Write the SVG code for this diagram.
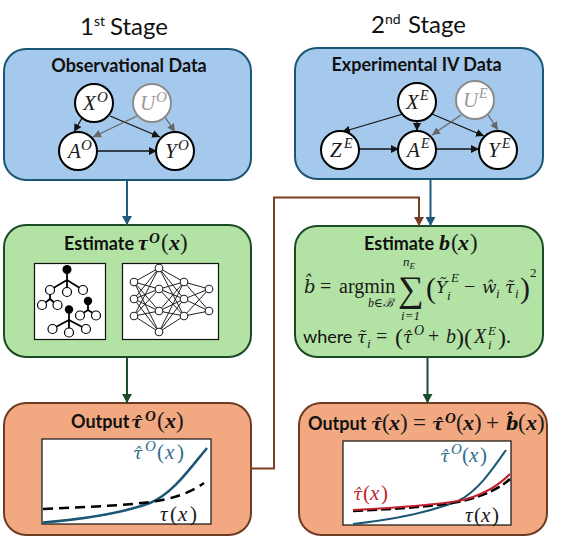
<svg xmlns="http://www.w3.org/2000/svg" width="585" height="541" viewBox="0 0 585 541">
<defs>
<style>
.blue{fill:#a5c9ec;stroke:#1b5674;stroke-width:2}
.green{fill:#b3e3a4;stroke:#1a4a26;stroke-width:2}
.orange{fill:#f2a982;stroke:#6e3c22;stroke-width:2}
.t{font-family:"Lato","Open Sans",sans-serif;fill:#111}
.h{font-family:"Lato","Open Sans",sans-serif;font-weight:700;font-size:18px;fill:#111}
.m{font-family:"Liberation Serif","DejaVu Serif",serif;font-style:italic;fill:#1a1a1a}
.mb{font-family:"Liberation Serif","DejaVu Serif",serif;font-style:italic;font-weight:700;fill:#111}
.hm{font-family:"DejaVu Serif",serif;font-style:italic;fill:#1a1a1a}
.hb{font-family:"DejaVu Serif",serif;font-style:italic;font-weight:700;fill:#111}
.r{font-family:"Liberation Serif","DejaVu Serif",serif;fill:#1a1a1a}
.n{fill:#fff;stroke:#000;stroke-width:2}
.ng{fill:#fff;stroke:#8c8c8c;stroke-width:2}
.e{fill:none;stroke:#111;stroke-width:1.3;marker-end:url(#ak)}
.eg{fill:none;stroke:#666;stroke-width:1.3;marker-end:url(#ag)}
.plot{fill:#fff;stroke:#111;stroke-width:1.2}
.tl{fill:none;stroke:#000;stroke-width:1.8}
.to{fill:#fff;stroke:#000;stroke-width:1.2}
.nl{stroke:#222;stroke-width:1;fill:none}
.no{fill:#fff;stroke:#222;stroke-width:1.1}
</style>
<marker id="ak" markerUnits="userSpaceOnUse" markerWidth="9" markerHeight="8" refX="8" refY="4" orient="auto"><path d="M0 0L8 4L0 8z" fill="#111"/></marker>
<marker id="ag" markerUnits="userSpaceOnUse" markerWidth="9" markerHeight="8" refX="8" refY="4" orient="auto"><path d="M0 0L8 4L0 8z" fill="#666"/></marker>
<marker id="ab" markerUnits="userSpaceOnUse" markerWidth="10" markerHeight="10" refX="9" refY="5" orient="auto"><path d="M0 0L9 5L0 10z" fill="#1f5a7e"/></marker>
<marker id="ad" markerUnits="userSpaceOnUse" markerWidth="10" markerHeight="10" refX="9" refY="5" orient="auto"><path d="M0 0L9 5L0 10z" fill="#1b4d2a"/></marker>
<marker id="ar" markerUnits="userSpaceOnUse" markerWidth="10" markerHeight="10" refX="9" refY="5" orient="auto"><path d="M0 0L9 5L0 10z" fill="#7a3d20"/></marker>
</defs>
<rect width="585" height="541" fill="#fff"/>

<text class="t" x="80" y="35" font-size="24">1<tspan font-size="14" dy="-9">st</tspan><tspan dy="9" x="110">Stage</tspan></text>
<text class="t" x="371" y="33" font-size="24">2<tspan font-size="14" dy="-9">nd</tspan><tspan dy="9" x="408">Stage</tspan></text>

<g id="box-observational">
<rect class="blue" x="4" y="49" width="247" height="131" rx="22"/>
<text class="h" x="129" y="72" text-anchor="middle">Observational Data</text>
</g>
<g id="box-experimental">
<rect class="blue" x="295" y="48" width="248" height="131" rx="22"/>
<text class="h" x="416.500" y="71" text-anchor="middle">Experimental IV Data</text>
</g>
<g id="box-estimate-tau">
<rect class="green" x="4" y="225" width="247" height="132" rx="22"/>
<text x="64" y="250"><tspan class="h" font-size="19.500">Estimate</tspan><tspan class="mb" font-size="22" x="138">τ</tspan><tspan class="mb" font-size="15" x="149" y="243">O</tspan><tspan class="r" font-size="23" x="161" y="250">(</tspan><tspan class="mb" font-size="22" x="169">x</tspan><tspan class="r" font-size="23" x="180">)</tspan></text>
</g>
<g id="box-estimate-b">
<rect class="green" x="295" y="226" width="248" height="131" rx="22"/>
<text x="364" y="250"><tspan class="h" font-size="19.500">Estimate</tspan><tspan class="mb" font-size="22" x="439">b</tspan><tspan class="r" font-size="23" x="451">(</tspan><tspan class="mb" font-size="22" x="458">x</tspan><tspan class="r" font-size="23" x="470">)</tspan></text>
</g>
<g id="box-output-tau">
<rect class="orange" x="4" y="403" width="247" height="132" rx="22"/>
<text x="71" y="428"><tspan class="h" font-size="19.500">Output</tspan><tspan class="hb" font-size="17" x="131">τ̂</tspan><tspan class="mb" font-size="15" x="145" y="421">O</tspan><tspan class="r" font-size="23" x="157" y="428">(</tspan><tspan class="mb" font-size="22" x="165">x</tspan><tspan class="r" font-size="23" x="176">)</tspan></text>
</g>
<g id="box-output-final">
<rect class="orange" x="299" y="403" width="248" height="132" rx="22"/>
<text x="308" y="430"><tspan class="h" font-size="19.500">Output</tspan><tspan class="hb" font-size="17" x="371">τ̂</tspan><tspan class="r" font-size="23" x="382">(</tspan><tspan class="mb" font-size="22" x="389">x</tspan><tspan class="r" font-size="23" x="400">)</tspan><tspan class="r" font-size="23" x="413">=</tspan><tspan class="hb" font-size="17" x="432">τ̂</tspan><tspan class="mb" font-size="15" x="445" y="423">O</tspan><tspan class="r" font-size="23" x="456" y="430">(</tspan><tspan class="mb" font-size="22" x="463">x</tspan><tspan class="r" font-size="23" x="474">)</tspan><tspan class="r" font-size="23" x="486">+</tspan><tspan class="hb" font-size="18" x="506">b̂</tspan><tspan class="r" font-size="23" x="518">(</tspan><tspan class="mb" font-size="22" x="526">x</tspan><tspan class="r" font-size="23" x="537">)</tspan></text>
</g>

<g id="connectors" fill="none">
<path d="M127 180V225" stroke="#1f5a7e" stroke-width="2" marker-end="url(#ab)"/>
<path d="M430.500 179V226" stroke="#1f5a7e" stroke-width="2" marker-end="url(#ab)"/>
<path d="M251 468.500H274V197.500H419V226" stroke="#7a3d20" stroke-width="2" marker-end="url(#ar)"/>
<path d="M127 357V403" stroke="#1b4d2a" stroke-width="2" marker-end="url(#ad)"/>
<path d="M427.500 357V403" stroke="#1b4d2a" stroke-width="2" marker-end="url(#ad)"/>
<path class="e" d="M82 118L74 132"/>
<path class="e" d="M110 116L160 137"/>
<path class="eg" d="M137 116L93 137"/>
<path class="eg" d="M165 117L175 132"/>
<path class="e" d="M97 151H157"/>
<path class="e" d="M403 114L342 132"/>
<path class="e" d="M417 120V131"/>
<path class="e" d="M432 114L484 136"/>
<path class="eg" d="M461 115L432 135"/>
<path class="eg" d="M488 115L498 130"/>
<path class="e" d="M359 149H399"/>
<path class="e" d="M436 149H479"/>
</g>

<g id="node-XO"><circle class="n" cx="94" cy="103" r="19"/><text class="m" x="83" y="110" font-size="21">X</text><text class="m" x="97" y="102" font-size="15">O</text></g>
<g id="node-UO"><circle class="ng" cx="152" cy="103" r="19"/><text class="m" x="140" y="110" font-size="21" style="fill:#9a9a9a">U</text><text class="m" x="156" y="102" font-size="15" style="fill:#9a9a9a">O</text></g>
<g id="node-AO"><circle class="n" cx="78" cy="151" r="19"/><text class="m" x="68" y="158" font-size="21">A</text><text class="m" x="81" y="150" font-size="15">O</text></g>
<g id="node-YO"><circle class="n" cx="175" cy="151" r="19"/><text class="m" x="165" y="158" font-size="21">Y</text><text class="m" x="178" y="150" font-size="15">O</text></g>

<g id="node-XE"><circle class="n" cx="417" cy="102" r="19"/><text class="m" x="406" y="109" font-size="21">X</text><text class="m" x="420" y="100" font-size="14">E</text></g>
<g id="node-UE"><circle class="ng" cx="475" cy="100" r="19"/><text class="m" x="463" y="107" font-size="21" style="fill:#9a9a9a">U</text><text class="m" x="479" y="98" font-size="14" style="fill:#9a9a9a">E</text></g>
<g id="node-ZE"><circle class="n" cx="340" cy="150" r="19"/><text class="m" x="330" y="157" font-size="21">Z</text><text class="m" x="344" y="148" font-size="14">E</text></g>
<g id="node-AE"><circle class="n" cx="417" cy="150" r="19"/><text class="m" x="407" y="157" font-size="21">A</text><text class="m" x="421" y="148" font-size="14">E</text></g>
<g id="node-YE"><circle class="n" cx="498" cy="150" r="19"/><text class="m" x="488" y="157" font-size="21">Y</text><text class="m" x="502" y="148" font-size="14">E</text></g>

<g id="trees">
<rect class="plot" x="34.500" y="263.500" width="71" height="76"/>
<path class="tl" d="M67 270V280M50 290L67 280L83 290M67 280V292M50 290V299M42 305L50 299L57 305M88 301V310M80 315L88 310L96 315M69 309V320M52 329L69 320L86 329M69 320V332" stroke-width="2"/>
<circle cx="67" cy="269.500" r="4.500"/>
<circle class="to" cx="50" cy="290" r="4.500"/><circle class="to" cx="67" cy="292" r="4.500"/><circle class="to" cx="83" cy="290" r="4.500"/>
<circle class="to" cx="42" cy="305" r="4.500"/><circle class="to" cx="57.500" cy="305" r="4.500"/>
<circle cx="88" cy="301" r="4.200"/><circle class="to" cx="80" cy="315.500" r="4.500"/><circle class="to" cx="96" cy="315.500" r="4.500"/>
<circle cx="69" cy="309.500" r="4.200"/><circle class="to" cx="52.500" cy="329" r="4.500"/><circle class="to" cx="69" cy="332.500" r="4.500"/><circle class="to" cx="86" cy="329" r="4.500"/>
</g>

<g id="network">
<rect class="plot" x="122.500" y="263.500" width="96" height="76"/>
<path class="nl" d="M134 282L159 268M134 282L159 289M134 282L159 311M134 282L159 332M134 299L159 268M134 299L159 289M134 299L159 311M134 299L159 332M134 316L159 268M134 316L159 289M134 316L159 311M134 316L159 332M159 268L184 282M159 268L184 299M159 268L184 316M159 289L184 282M159 289L184 299M159 289L184 316M159 311L184 282M159 311L184 299M159 311L184 316M159 332L184 282M159 332L184 299M159 332L184 316M184 282L209 289M184 282L209 311M184 299L209 289M184 299L209 311M184 316L209 289M184 316L209 311"/>
<g class="no">
<circle cx="134" cy="282" r="3.800"/><circle cx="134" cy="299" r="3.800"/><circle cx="134" cy="316" r="3.800"/>
<circle cx="159" cy="268" r="3.800"/><circle cx="159" cy="289" r="3.800"/><circle cx="159" cy="311" r="3.800"/><circle cx="159" cy="332" r="3.800"/>
<circle cx="184" cy="282" r="3.800"/><circle cx="184" cy="299" r="3.800"/><circle cx="184" cy="316" r="3.800"/>
<circle cx="209" cy="289" r="3.800"/><circle cx="209" cy="311" r="3.800"/>
</g>
</g>

<g id="formula">
<text class="hm" x="304" y="293" font-size="18">b̂</text>
<text class="r" x="320" y="293" font-size="20">=</text>
<text class="r" x="339" y="293" font-size="20">argmin</text>
<text class="m" x="368" y="307" font-size="12">b∈ℬ</text>
<text class="m" x="403" y="266" font-size="13">n<tspan font-size="9" dy="3">E</tspan></text>
<text class="r" x="398" y="301" font-size="36">∑</text>
<text class="m" x="401" y="320" font-size="13">i<tspan class="r">=1</tspan></text>
<text class="r" x="426" y="298" font-size="30">(</text>
<text class="hm" x="436" y="293" font-size="17">Ỹ</text>
<text class="m" x="451" y="282" font-size="13">E</text>
<text class="m" x="447" y="300" font-size="13">i</text>
<text class="r" x="464" y="293" font-size="20">−</text>
<text class="hm" x="482" y="293" font-size="17">ŵ</text>
<text class="m" x="496" y="298" font-size="13">i</text>
<text class="hm" x="505" y="293" font-size="17">τ̃</text>
<text class="m" x="515" y="298" font-size="13">i</text>
<text class="r" x="520" y="298" font-size="30">)</text>
<text class="r" x="530" y="277" font-size="13">2</text>
<text class="t" x="303" y="343" font-size="18">where</text>
<text class="hm" x="357" y="343" font-size="17">τ̃</text>
<text class="m" x="367" y="348" font-size="13">i</text>
<text class="r" x="376" y="343" font-size="20">=</text>
<text class="r" x="395" y="345" font-size="24">(</text>
<text class="hm" x="403" y="343" font-size="17">τ̂</text>
<text class="m" x="414" y="335" font-size="14">O</text>
<text class="r" x="428" y="343" font-size="20">+</text>
<text class="m" x="446" y="343" font-size="20">b</text>
<text class="r" x="456" y="345" font-size="24">)(</text>
<text class="m" x="474" y="343" font-size="20">X</text>
<text class="m" x="488" y="335" font-size="13">E</text>
<text class="m" x="488" y="349" font-size="13">i</text>
<text class="r" x="498" y="345" font-size="24">)</text>
<text class="r" x="506" y="343" font-size="20">.</text>
</g>

<g id="plot-first">
<rect class="plot" x="42" y="439" width="169" height="85"/>
<path d="M43 522.500C85 519 120 514 150 503C172 494 188 471 207 448" fill="none" stroke="#1b5674" stroke-width="2.500"/>
<path d="M43 509C90 507 130 505 150 502C172 499 188 494 204 483" fill="none" stroke="#000" stroke-width="2.500" stroke-dasharray="10 6"/>
<text y="459"><tspan class="hm" font-size="17" x="133" style="fill:#2e6d8c">τ̂</tspan><tspan class="m" font-size="15" x="145" y="451" style="fill:#2e6d8c">O</tspan><tspan class="r" font-size="21" x="157" y="459" style="fill:#2e6d8c">(</tspan><tspan class="m" font-size="21" x="165" style="fill:#2e6d8c">x</tspan><tspan class="r" font-size="21" x="177" style="fill:#2e6d8c">)</tspan></text>
<text y="521"><tspan class="m" font-size="21" x="160">τ</tspan><tspan class="r" font-size="21" x="170">(</tspan><tspan class="m" font-size="21" x="178">x</tspan><tspan class="r" font-size="21" x="190">)</tspan></text>
</g>

<g id="plot-second">
<rect class="plot" x="343" y="441" width="168" height="84"/>
<path d="M353 524C390 520 430 512 458 501C478 491 492 470 506 450" fill="none" stroke="#1b5674" stroke-width="2"/>
<path d="M353 511C400 509 435 506 458 502C478 498 498 490 510 479" fill="none" stroke="#000" stroke-width="2.500" stroke-dasharray="10 4"/>
<path d="M353 510C400 507.500 435 505 458 501C478 497 496 488 510 474" fill="none" stroke="#c01f2e" stroke-width="2.200"/>
<text y="462"><tspan class="hm" font-size="17" x="440" style="fill:#2e6d8c">τ̂</tspan><tspan class="m" font-size="15" x="451" y="454" style="fill:#2e6d8c">O</tspan><tspan class="r" font-size="21" x="462" y="462" style="fill:#2e6d8c">(</tspan><tspan class="m" font-size="21" x="469" style="fill:#2e6d8c">x</tspan><tspan class="r" font-size="21" x="480" style="fill:#2e6d8c">)</tspan></text>
<text y="500"><tspan class="hm" font-size="17" x="353" style="fill:#c01f2e">τ̂</tspan><tspan class="r" font-size="21" x="363" style="fill:#c01f2e">(</tspan><tspan class="m" font-size="21" x="370" style="fill:#c01f2e">x</tspan><tspan class="r" font-size="21" x="381" style="fill:#c01f2e">)</tspan></text>
<text y="522"><tspan class="m" font-size="21" x="465">τ</tspan><tspan class="r" font-size="21" x="474">(</tspan><tspan class="m" font-size="21" x="481">x</tspan><tspan class="r" font-size="21" x="492">)</tspan></text>
</g>
</svg>
